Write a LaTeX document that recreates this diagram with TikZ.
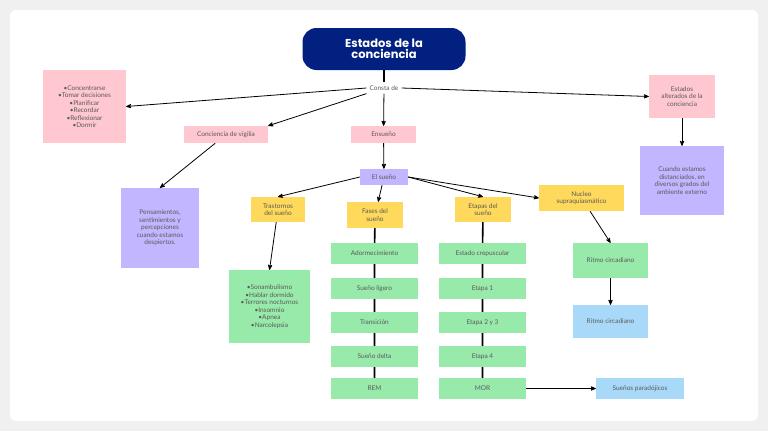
\documentclass[tikz,border=0pt]{standalone}
\usepackage{fontspec}
\setmainfont{Lato}
\newfontfamily\titlefont{Poppins}
\usetikzlibrary{arrows,positioning}
\definecolor{navy}{HTML}{02207F}
\definecolor{rosa}{HTML}{FFC7CF}
\definecolor{lila}{HTML}{C1B6FF}
\definecolor{amarillo}{HTML}{FFD95B}
\definecolor{verde}{HTML}{98EAAB}
\definecolor{celeste}{HTML}{A9D9F8}
\definecolor{texto}{HTML}{5A5A5A}
\tikzset{
  caja/.style={rectangle, inner sep=1pt, align=center, text=texto, font=\fontsize{6.5}{7.5}\selectfont},
  rosa/.style={caja, fill=rosa},
  lila/.style={caja, fill=lila},
  amar/.style={caja, fill=amarillo},
  verde/.style={caja, fill=verde, minimum width=87, minimum height=21},
  azul/.style={caja, fill=celeste},
  flecha/.style={->, >=stealth', thick},
  linea/.style={line width=1.6pt}
}
\begin{document}
\begin{tikzpicture}[x=1pt, y=-1pt]
    \fill[black!6] (0,0) rectangle (768,431);
    \fill[white, rounded corners=6] (10,10) rectangle (758,421);

    \node[fill=navy, rounded corners=14, minimum width=163, minimum height=42, text=white,
      align=center, font=\titlefont\bfseries\fontsize{11.5}{11}\selectfont] (titulo) at (384,49)
      {Estados de la\\conciencia};
    \node[caja, fill=white, inner sep=3pt] (consta) at (384,88) {Consta de};

    \node[rosa, minimum width=83, minimum height=73] (lista) at (84.5,106.5)
      {•Concentrarse\\•Tomar decisiones\\•Planificar\\•Recordar\\•Reflexionar\\•Dormir};
    \node[rosa, minimum width=84, minimum height=17] (vigilia) at (226,134.5) {Conciencia de vigilia};
    \node[rosa, minimum width=65, minimum height=17] (ensueno) at (383.5,134.5) {Ensueño};
    \node[rosa, minimum width=66, minimum height=43] (alterados) at (682,96.5)
      {Estados\\alterados de la\\conciencia};

    \node[lila, minimum width=84, minimum height=69] (cuando) at (682,180.5)
      {Cuando estamos\\distanciados, en\\diversos grados del\\ambiente externo};
    \node[lila, minimum width=78, minimum height=80] (pensam) at (160,228)
      {Pensamientos,\\sentimientos y\\percepciones\\cuando estamos\\despiertos.};
    \node[lila, minimum width=48, minimum height=16] (sueno) at (384,177) {El sueño};

    \node[amar, minimum width=54, minimum height=25] (trastornos) at (278,209.5) {Trastornos\\del sueño};
    \node[amar, minimum width=56, minimum height=26] (fases) at (375,215) {Fases del\\sueño};
    \node[amar, minimum width=56, minimum height=25] (etapas) at (483,209.5) {Etapas del\\sueño};
    \node[amar, minimum width=85, minimum height=26] (nucleo) at (581.5,198) {Nucleo\\supraquiasmático};

    \node[verde, minimum width=81, minimum height=73] (trastlista) at (269.5,306.5)
      {•Sonambulismo\\•Hablar dormido\\•Terrores nocturnos\\•Insomnio\\•Apnea\\•Narcolepsia};

    % fases del sueño
    \node[verde] (fase1) at (374.5,253.5) {Adormecimiento};
    \node[verde] (fase2) at (374.5,288.5) {Sueño ligero};
    \node[verde] (fase3) at (374.5,322.5) {Transición};
    \node[verde] (fase4) at (374.5,356.5) {Sueño delta};
    \node[verde] (fase5) at (374.5,388.5) {REM};

    % etapas del sueño
    \node[verde] (etapa1) at (482.5,253.5) {Estado crepuscular};
    \node[verde] (etapa2) at (482.5,288.5) {Etapa 1};
    \node[verde] (etapa3) at (482.5,322.5) {Etapa 2 y 3};
    \node[verde] (etapa4) at (482.5,356.5) {Etapa 4};
    \node[verde] (etapa5) at (482.5,388.5) {MOR};

    \node[caja, fill=verde, minimum width=75, minimum height=35] (ritmo) at (610.5,260.5) {Ritmo circadiano};
    \node[azul, minimum width=75, minimum height=33] (ritmob) at (610.5,321.5) {Ritmo circadiano};
    \node[azul, minimum width=88, minimum height=21] (paradojicos) at (640,388.5) {Sueños paradójicos};

    \draw[linea] (titulo) -- (consta);
    \draw[flecha] (consta.west) -- (lista.east);
    \draw[flecha] (consta.south west) -- (vigilia.north east);
    \draw[flecha] (consta) -- (ensueno);
    \draw[flecha] (consta.east) -- (alterados.west);
    \draw[flecha] (alterados) -- (cuando);
    \draw[flecha] (vigilia) -- (pensam.north);
    \draw[flecha] (ensueno) -- (sueno);
    \draw[flecha] (sueno.west) -- (trastornos.north);
    \draw[flecha] (sueno) -- (fases);
    \draw[flecha] (sueno.east) -- (etapas.north);
    \draw[flecha] (sueno.east) -- (nucleo.west);
    \draw[flecha] (trastornos) -- (trastlista.north);
    \draw[flecha] (nucleo) -- (ritmo.north);
    \draw[flecha] (ritmo) -- (ritmob);
    \draw[flecha] (etapa5) -- (paradojicos);

    \draw[linea] (fases) -- (fase1) -- (fase2) -- (fase3) -- (fase4) -- (fase5);
    \draw[linea] (etapas) -- (etapa1) -- (etapa2) -- (etapa3) -- (etapa4) -- (etapa5);

\end{tikzpicture}
\end{document}
